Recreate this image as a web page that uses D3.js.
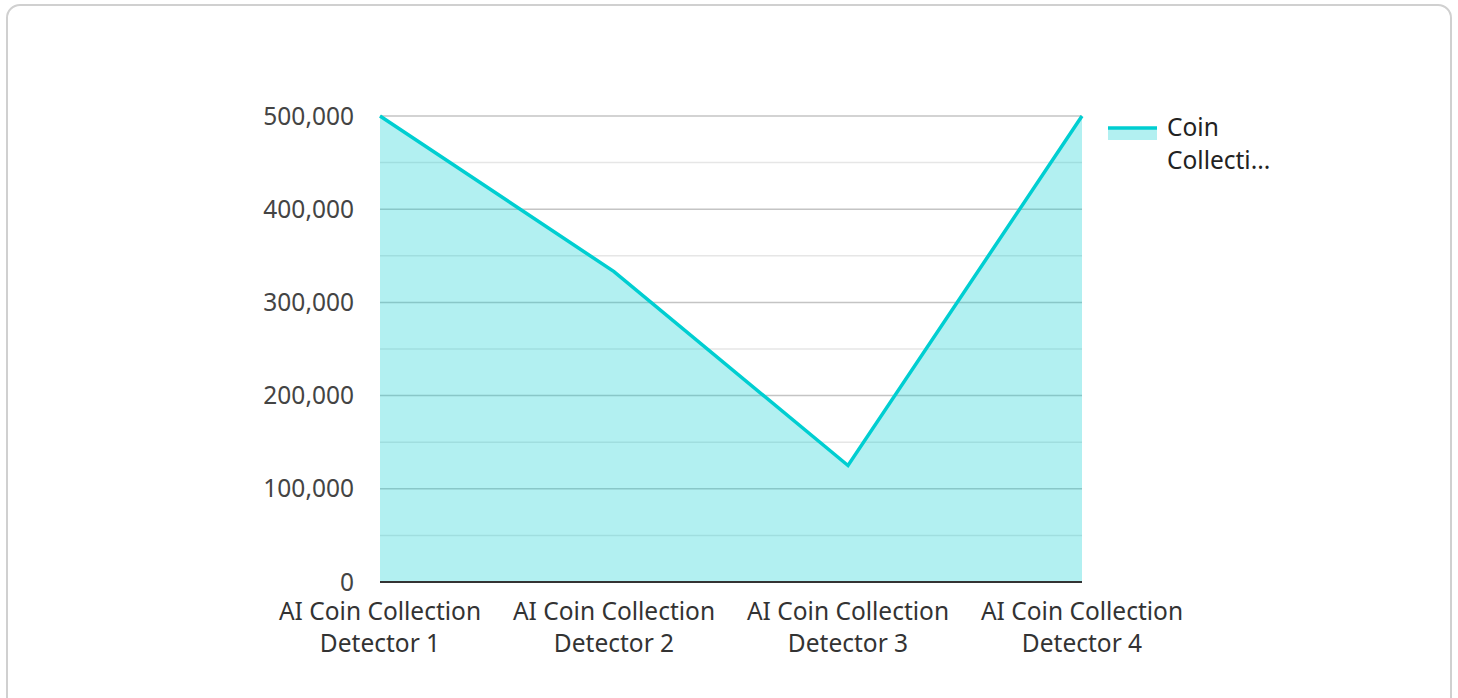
<!DOCTYPE html>
<html>
<head>
<meta charset="utf-8">
<script src="https://cdn.jsdelivr.net/npm/d3@7"></script>
<style>
  body { margin: 0; background: #fff; font-family: "Noto Sans", "Open Sans", sans-serif; }
</style>
</head>
<body>
<div id="chart"></div>
<script>
// chart data
var categories = ["AI Coin Collection Detector 1", "AI Coin Collection Detector 2", "AI Coin Collection Detector 3", "AI Coin Collection Detector 4"]
var values = [500000, 333000, 125000, 500000]
var seriesName = "Coin Collecti..."
var yTicks = [0, 100000, 200000, 300000, 400000, 500000]

var width = 1458
var height = 698
var plotLeft = 380, plotRight = 1082, plotTop = 116, plotBottom = 582
var lineColor = "#00ced1"

var svg = d3.select("#chart")
    .append("svg")
    .attr("width", width)
    .attr("height", height)

// card border
svg.append("rect")
    .attr("x", 7).attr("y", 5)
    .attr("width", 1444).attr("height", 720)
    .attr("rx", 13)
    .attr("fill", "#fff")
    .attr("stroke", "#d0d0d0")
    .attr("stroke-width", 2)

var x = d3.scalePoint().domain(categories).range([plotLeft, plotRight])
var y = d3.scaleLinear().domain([0, 500000]).range([plotBottom, plotTop])

// gridlines (minor + major)
var minor = d3.range(50000, 500000, 100000)
svg.append("g").selectAll("line")
    .data(minor).enter().append("line")
    .attr("x1", plotLeft).attr("x2", plotRight)
    .attr("y1", d => y(d)).attr("y2", d => y(d))
    .attr("stroke", "#e6e6e6").attr("stroke-width", 1.5)

svg.append("g").selectAll("line")
    .data(yTicks.slice(1)).enter().append("line")
    .attr("x1", plotLeft).attr("x2", plotRight)
    .attr("y1", d => y(d)).attr("y2", d => y(d))
    .attr("stroke", "#c4c4c4").attr("stroke-width", 1.5)

// area + line
var area = d3.area()
    .x((d, i) => x(categories[i]))
    .y0(y(0))
    .y1(d => y(d))
svg.append("path")
    .datum(values)
    .attr("d", area)
    .attr("fill", lineColor)
    .attr("fill-opacity", 0.3)

var line = d3.line()
    .x((d, i) => x(categories[i]))
    .y(d => y(d))
svg.append("path")
    .datum(values)
    .attr("d", line)
    .attr("fill", "none")
    .attr("stroke", lineColor)
    .attr("stroke-width", 3.5)

// baseline
svg.append("line")
    .attr("x1", plotLeft).attr("x2", plotRight)
    .attr("y1", y(0)).attr("y2", y(0))
    .attr("stroke", "#333").attr("stroke-width", 2)

// y axis labels
var fmt = d3.format(",")
svg.append("g").selectAll("text")
    .data(yTicks).enter().append("text")
    .attr("x", 354)
    .attr("y", d => y(d))
    .attr("dy", "0.35em")
    .attr("text-anchor", "end")
    .attr("font-size", 24.5)
    .attr("fill", "#444")
    .text(d => fmt(d))

// x axis labels, wrapped on two lines
var xl = svg.append("g").selectAll("text")
    .data(categories).enter().append("text")
    .attr("x", d => x(d))
    .attr("y", 620)
    .attr("text-anchor", "middle")
    .attr("font-size", 24.5)
    .attr("fill", "#333")
xl.append("tspan")
    .attr("x", d => x(d))
    .text(d => d.replace(/ Detector.*/, ""))
xl.append("tspan")
    .attr("x", d => x(d))
    .attr("dy", 32)
    .text(d => d.replace(/.* (Detector)/, "$1"))

// legend
var lg = svg.append("g")
lg.append("rect")
    .attr("x", 1108).attr("y", 127)
    .attr("width", 49).attr("height", 13)
    .attr("fill", lineColor).attr("fill-opacity", 0.3)
lg.append("line")
    .attr("x1", 1108).attr("x2", 1157)
    .attr("y1", 128).attr("y2", 128)
    .attr("stroke", lineColor).attr("stroke-width", 3.5)
var lt = lg.append("text")
    .attr("x", 1167).attr("y", 136)
    .attr("font-size", 24.5)
    .attr("fill", "#222")
lt.append("tspan").attr("x", 1167).text(seriesName.split(" ")[0])
lt.append("tspan").attr("x", 1167).attr("dy", 33).text(seriesName.split(" ")[1])
</script>
</body>
</html>
